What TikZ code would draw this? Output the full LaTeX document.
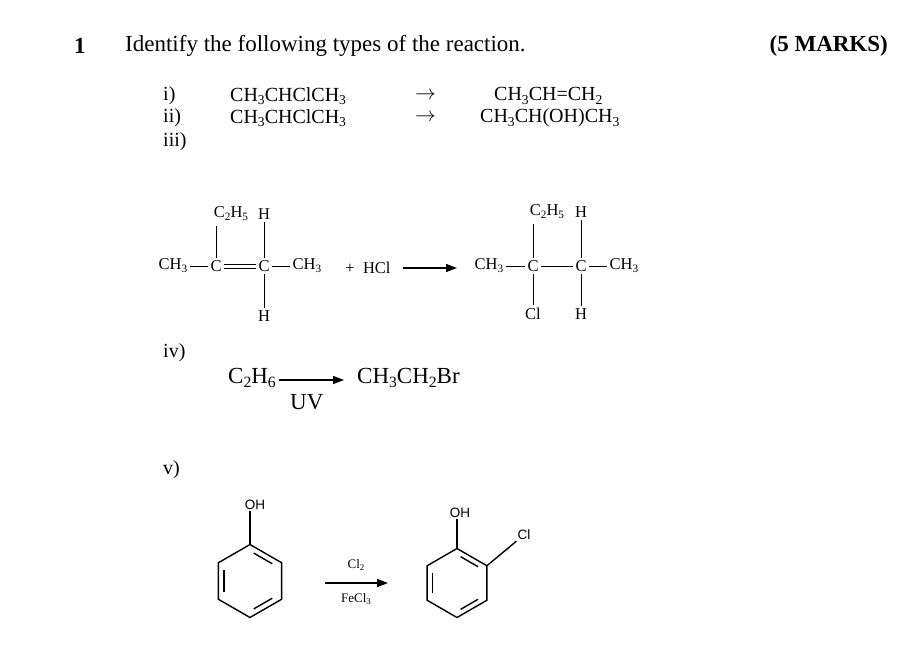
\documentclass[tikz,border=0pt]{standalone}
\usepackage{fontspec}
\setmainfont{Liberation Serif}
\setsansfont{Liberation Sans}
\usetikzlibrary{calc,arrows.meta}
\newcommand\sbs[1]{\raisebox{-0.4ex}{\scalebox{0.68}{#1}}}
\begin{document}
\begin{tikzpicture}[x=1pt,y=-1pt,
  txt/.style={inner sep=0pt,anchor=west,font=\fontsize{23}{26}\selectfont},
  frm/.style={inner sep=0pt,anchor=west,font=\fontsize{20}{22}\selectfont},
  chem/.style={inner sep=2.5pt,font=\fontsize{16.5}{19}\selectfont},
  sm/.style={inner sep=1pt,font=\sffamily\fontsize{13.5}{15}\selectfont},
  bond/.style={line width=1pt},
  ring/.style={line width=1.4pt},
  rx/.style={line width=1.3pt,-{Triangle[length=11pt,width=8pt]}}]
\useasboundingbox (0,0) rectangle (912,661);
\node[txt,font=\bfseries\fontsize{23}{26}\selectfont] (q) at (74,46) {1};
\node[txt] (qt) at (125,46) {Identify the following types of the reaction.};
\node[txt,anchor=east,font=\bfseries\fontsize{23}{26}\selectfont] (mk) at (888,46) {(5 MARKS)};
% i, ii, iii
\node[frm] (l1) at (163,96) {i)};
\node[frm] (r1) at (230,96) {CH\sbs{3}CHClCH\sbs{3}};
\node[frm] (a1) at (415,96) {$\rightarrow$};
\node[frm] (p1) at (494,96) {CH\sbs{3}CH=CH\sbs{2}};
\node[frm] (l2) at (163,118) {ii)};
\node[frm] (r2) at (230,118) {CH\sbs{3}CHClCH\sbs{3}};
\node[frm] (a2) at (415,118) {$\rightarrow$};
\node[frm] (p2) at (480,118) {CH\sbs{3}CH(OH)CH\sbs{3}};
\node[frm] (l3) at (163,142) {iii)};
% reaction iii left
\node[chem] (m1) at (173,266) {CH\sbs{3}};
\node[chem] (c1) at (216,266) {C};
\node[chem] (c2) at (264,266) {C};
\node[chem] (m2) at (307,266) {CH\sbs{3}};
\node[chem] (e1) at (231,214) {C\sbs{2}H\sbs{5}};
\node[chem] (h1) at (264,214) {H};
\node[chem] (h2) at (264,316) {H};
\draw[bond] (m1.east) -- (c1.west);
\draw[bond] (c1.east) ++(0,-2) -- ($(c2.west)+(0,-2)$);
\draw[bond] (c1.east) ++(0,2) -- ($(c2.west)+(0,2)$);
\draw[bond] (c2.east) -- (m2.west);
\draw[bond] (216,226) -- (c1.north);
\draw[bond] (c2.north) -- (h1.south);
\draw[bond] (c2.south) -- (h2.north);
\node[chem] (hcl) at (368,268) {+\ \ HCl};
\coordinate (as) at (403,268);
\coordinate (ae) at (457,268);
\draw[rx] (as) -- (ae);
% reaction iii right
\node[chem] (m3) at (489,266) {CH\sbs{3}};
\node[chem] (c3) at (533,266) {C};
\node[chem] (c4) at (581,266) {C};
\node[chem] (m4) at (624,266) {CH\sbs{3}};
\node[chem] (e2) at (547,212) {C\sbs{2}H\sbs{5}};
\node[chem] (h3) at (581,212) {H};
\node[chem] (cl) at (533,314) {Cl};
\node[chem] (h4) at (581,314) {H};
\draw[bond] (m3.east) -- (c3.west);
\draw[bond] (c3.east) -- (c4.west);
\draw[bond] (c4.east) -- (m4.west);
\draw[bond] (533,224) -- (c3.north);
\draw[bond] (c4.north) -- (h3.south);
\draw[bond] (c3.south) -- (cl.north);
\draw[bond] (c4.south) -- (h4.north);
% iv
\node[frm] (l4) at (163,353) {iv)};
\node[txt] (r4) at (228,378) {C\sbs{2}H\sbs{6}};
\node[txt] (p4) at (357,378) {CH\sbs{3}CH\sbs{2}Br};
\node[txt] (uv) at (290,402) {UV};
\coordinate (is) at (279,380);
\coordinate (ie) at (344,380);
\draw[rx] (is) -- (ie);
% v
\node[frm] (l5) at (163,470) {v)};
% phenol
\coordinate (b1) at (250,581);
\foreach \a in {-90,-30,30,90,150,210} \coordinate (b1\a) at ($(b1)+(\a:36.5)$);
\draw[ring] (b1-90)--(b1-30)--(b130)--(b190)--(b1150)--(b1210)--cycle;
\draw[ring] ($(b1)!0.8!(b1-90)!0.12!(b1-30)$) -- ($(b1)!0.8!(b1-30)!0.12!(b1-90)$);
\draw[ring] ($(b1)!0.8!(b1150)!0.12!(b1210)$) -- ($(b1)!0.8!(b1210)!0.12!(b1150)$);
\draw[ring] ($(b1)!0.8!(b130)!0.12!(b190)$) -- ($(b1)!0.8!(b190)!0.12!(b130)$);
\node[sm] (oh1) at (255,505) {OH};
\draw[ring] (b1-90) -- (oh1.south -| b1-90);
\node[font=\fontsize{13}{15}\selectfont,inner sep=1pt] (cl2) at (356,565) {Cl\sbs{2}};
\node[font=\fontsize{13}{15}\selectfont,inner sep=1pt] (fe) at (356,599) {FeCl\sbs{3}};
\coordinate (vs) at (325,583);
\coordinate (ve) at (388,583);
\draw[rx] (vs) -- (ve);
% chlorophenol
\coordinate (b2) at (457,583);
\foreach \a in {-90,-30,30,90,150,210} \coordinate (b2\a) at ($(b2)+(\a:34.5)$);
\draw[ring] (b2-90)--(b2-30)--(b230)--(b290)--(b2150)--(b2210)--cycle;
\draw[ring] ($(b2)!0.8!(b2-90)!0.12!(b2-30)$) -- ($(b2)!0.8!(b2-30)!0.12!(b2-90)$);
\draw[ring] ($(b2)!0.8!(b2150)!0.12!(b2210)$) -- ($(b2)!0.8!(b2210)!0.12!(b2150)$);
\draw[ring] ($(b2)!0.8!(b230)!0.12!(b290)$) -- ($(b2)!0.8!(b290)!0.12!(b230)$);
\node[sm] (oh2) at (460,513) {OH};
\node[sm] (cl3) at (524,535) {Cl};
\draw[ring] (b2-90) -- (oh2.south -| b2-90);
\draw[ring] (b2-30) -- (cl3.south west);
\end{tikzpicture}
\end{document}
